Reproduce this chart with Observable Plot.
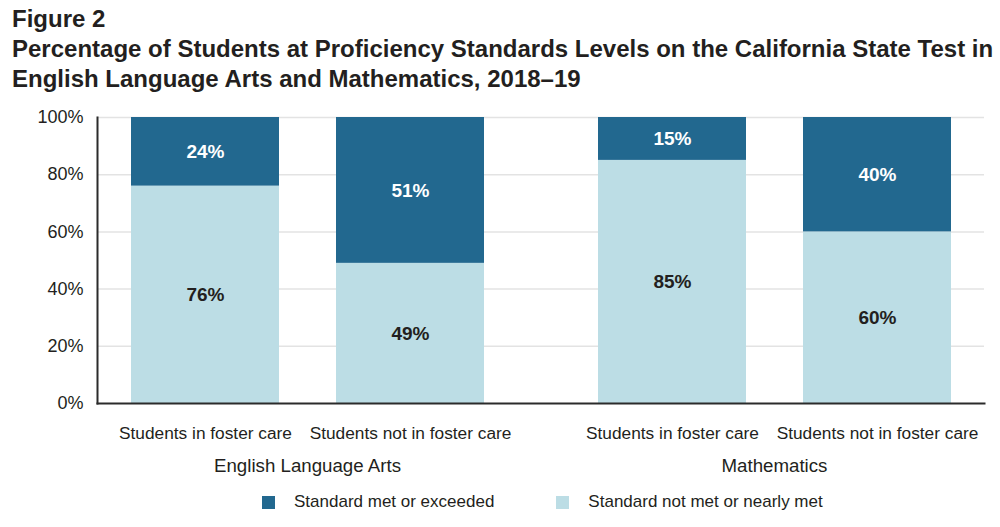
<!DOCTYPE html>
<html>
<head>
<meta charset="utf-8">
<script src="https://cdn.jsdelivr.net/npm/d3@7"></script>
<script src="https://cdn.jsdelivr.net/npm/@observablehq/plot@0.6"></script>
<style>
  html, body { margin: 0; padding: 0; background: #fff; }
  body { width: 1000px; height: 527px; overflow: hidden; font-family: "Liberation Sans", Arial, sans-serif; color: #231f20; }
  .fig { position: absolute; left: 12px; top: 4px; font-family: "Liberation Sans Narrow", "Liberation Sans", sans-serif; font-weight: bold; font-size: 24px; line-height: 30px; color: #231f20; }
  #chart { position: absolute; left: 0; top: 100px; }
  .legend { position: absolute; left: 262px; top: 492px; display: flex; align-items: center; font-size: 17px; color: #231f20; }
  .legend .sw { width: 13px; height: 13px; display: inline-block; margin-right: 19px; }
  .legend .item { display: flex; align-items: center; }
</style>
</head>
<body>
<div class="fig">
  <div>Figure 2</div>
  <div>Percentage of Students at Proficiency Standards Levels on the California State Test in</div>
  <div>English Language Arts and Mathematics, 2018–19</div>
</div>
<div id="chart"></div>
<div class="legend" id="legend"></div>
<script>
const subjects = ["English Language Arts", "Mathematics"];
const groups = ["Students in foster care", "Students not in foster care"];
const levels = ["Standard not met or nearly met", "Standard met or exceeded"];
const levelColors = ["#bcdde5", "#22688f"];
const legendOrder = ["Standard met or exceeded", "Standard not met or nearly met"];
// order: ELA foster, ELA not foster, Math foster, Math not foster
const notMetValues = [76, 49, 85, 60];
const metValues = [24, 51, 15, 40];
const yTicks = [0, 20, 40, 60, 80, 100];

const rows = [];
let k = 0;
for (const s of subjects) {
  for (const g of groups) {
    rows.push({subject: s, group: g, level: levels[0], value: notMetValues[k]});
    rows.push({subject: s, group: g, level: levels[1], value: metValues[k]});
    k++;
  }
}
const gridTicks = yTicks.filter(d => d > 0);

const chart = Plot.plot({
  width: 1000,
  height: 380,
  marginTop: 17,
  marginBottom: 77,
  marginLeft: 97,
  marginRight: 15,
  style: {fontFamily: "'Liberation Sans', Arial, sans-serif", color: "#231f20", background: "transparent"},
  fx: {domain: subjects, paddingInner: 0.1, paddingOuter: 0, axis: null, label: null},
  x: {domain: groups, paddingInner: 0.28, paddingOuter: 0.163, axis: null, label: null},
  y: {domain: [0, 100], axis: null, label: null},
  color: {domain: levels, range: levelColors},
  marks: [
    // grid: left panel extended across the gap between panels
    Plot.ruleY(gridTicks, {fx: () => subjects[0], y: d => d, stroke: "#e3e3e3", strokeWidth: 1.5, insetRight: -47}),
    Plot.ruleY(gridTicks, {fx: () => subjects[1], y: d => d, stroke: "#e3e3e3", strokeWidth: 1.5}),
    Plot.barY(rows, {fx: "subject", x: "group", y: "value", fill: "level"}),
    Plot.text(rows, Plot.stackY({
      fx: "subject", x: "group", y: "value", z: "level",
      text: d => d.value + "%",
      fill: d => d.level === levels[1] ? "#ffffff" : "#231f20",
      fontSize: 19, fontWeight: "bold"
    })),
    Plot.frame({anchor: "bottom", facet: "super", stroke: "#2b2b2b", strokeWidth: 2}),
    Plot.frame({anchor: "left", facet: "super", stroke: "#2b2b2b", strokeWidth: 2}),
    Plot.axisY({ticks: yTicks, tickFormat: d => d + "%", tickSize: 0, tickPadding: 14, label: null, fontSize: 18}),
    Plot.axisX({tickSize: 0, tickPadding: 23, label: null, fontSize: 17.3}),
    Plot.axisFx({anchor: "bottom", tickSize: 0, tickPadding: 55, label: null, fontSize: 18.7})
  ]
});
document.getElementById("chart").appendChild(chart);

const legend = document.getElementById("legend");
legendOrder.forEach((name, i) => {
  const item = document.createElement("div");
  item.className = "item";
  if (i > 0) item.style.marginLeft = "62px";
  const sw = document.createElement("span");
  sw.className = "sw";
  sw.style.background = levelColors[levels.indexOf(name)];
  const t = document.createElement("span");
  t.textContent = name;
  item.appendChild(sw);
  item.appendChild(t);
  legend.appendChild(item);
});
</script>
</body>
</html>
